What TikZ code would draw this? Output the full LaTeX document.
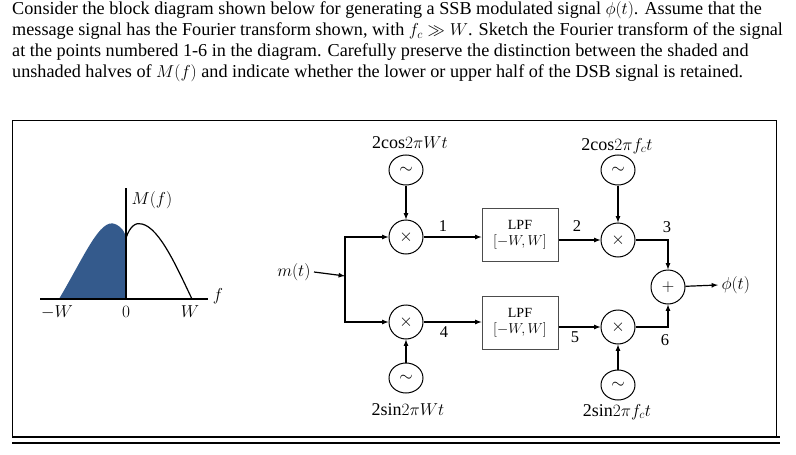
\documentclass[tikz,border=0pt]{standalone}
\usepackage{fontspec}
\setmainfont{Liberation Serif}
\usetikzlibrary{positioning,shapes.geometric,arrows}
\definecolor{shadeblue}{RGB}{52,90,140}
\tikzset{
  blk/.style = {draw=black!70, line width=1pt, minimum width=76pt, minimum height=53pt,
    font=\fontsize{14}{16}\selectfont, align=center},
  mix/.style = {draw, line width=1pt, circle, minimum size=34pt, inner sep=0pt,
    font=\fontsize{18}{18}\selectfont},
  osc/.style = {draw, line width=1pt, ellipse, minimum width=34pt, minimum height=30pt,
    inner sep=0pt, font=\fontsize{16}{16}\selectfont},
  lbl/.style = {font=\fontsize{18}{20}\selectfont},
  num/.style = {font=\fontsize{16.5}{18}\selectfont},
  sig/.style = {->, >=latex, line width=1.2pt}
}
\begin{document}
\begin{tikzpicture}[x=1pt,y=-1pt]
\useasboundingbox (0,0) rectangle (796,455);
% question text
\node[anchor=north west, inner sep=0pt, align=left,
  font=\fontsize{18.2}{21}\selectfont] (txt) at (12,1.5)
  {Consider the block diagram shown below for generating a SSB modulated signal $\phi(t)$. Assume that the\\
   message signal has the Fourier transform shown, with $f_c \gg W$. Sketch the Fourier transform of the signal\\
   at the points numbered 1-6 in the diagram. Carefully preserve the distinction between the shaded and\\
   unshaded halves of $M(f)$ and indicate whether the lower or upper half of the DSB signal is retained.};
% frame
\draw[line width=1pt] (12,438) -- (12,120) -- (776,120) -- (776,438);
\draw[line width=1.5pt] (12,437) -- (780,437);
\draw[line width=1.5pt] (12,443) -- (780,443);
% spectrum
\fill[shadeblue] (59,299) .. controls (85,255) and (100,218) .. (115,224)
  .. controls (122,227) and (125,232) .. (126,238) -- (126,299) -- cycle;
\draw[line width=1.2pt] (126,238) .. controls (130,226) and (136,222) .. (142,224)
  .. controls (160,228) and (178,270) .. (192,299);
\draw[line width=1.2pt] (40,299) -- (208,299);
\draw[line width=1.2pt] (126,188) -- (126,299);
\node[lbl] (mf) at (152,200) {$M(f)$};
\node[lbl] (wl) at (57,312) {$-W$};
\node[lbl] (w0) at (126,312) {$0$};
\node[lbl] (wr) at (190,312) {$W$};
\node[lbl] (fax) at (218,296) {$f$};
% blocks
\node[mix] (m1) at (406,237) {$\times$};
\node[mix] (m2) at (618,240) {$\times$};
\node[mix] (m3) at (406,322) {$\times$};
\node[mix] (m4) at (618,327) {$\times$};
\node[mix] (sum) at (668,287) {$+$};
\node[blk] (lpf1) at (520,235) {LPF\\$[-W,W]$};
\node[blk] (lpf2) at (520,323) {LPF\\$[-W,W]$};
\node[osc] (o1) at (406,170) {$\sim$};
\node[osc] (o2) at (618,170) {$\sim$};
\node[osc] (o3) at (406,378) {$\sim$};
\node[osc] (o4) at (618,385) {$\sim$};
\node[lbl] (c1) at (410,143) {2cos$2\pi Wt$};
\node[lbl] (c2) at (617,146) {2cos$2\pi f_ct$};
\node[lbl] (s1) at (408,410) {2sin$2\pi Wt$};
\node[lbl] (s2) at (617,412) {2sin$2\pi f_ct$};
\node[lbl, anchor=east] (in) at (314,272) {$m(t)$};
\node[lbl, anchor=west] (out) at (718,285) {$\phi(t)$};
\coordinate (split) at (345,276);
% connectors
\draw[sig] (in.east) -- (split);
\draw[sig] (split) |- (m1.west);
\draw[sig] (split) |- (m3.west);
\draw[sig] (o1) -- (m1);
\draw[sig] (o2) -- (m2);
\draw[sig] (o3) -- (m3);
\draw[sig] (o4) -- (m4);
\draw[sig] (m1) -- (lpf1.west |- m1);
\draw[sig] (m3) -- (lpf2.west |- m3);
\draw[sig] (lpf1.east |- m2) -- (m2);
\draw[sig] (lpf2.east |- m4) -- (m4);
\draw[sig] (m2.east) -| (sum.north);
\draw[sig] (m4.east) -| (sum.south);
\draw[sig] (sum) -- (out.west);
% point numbers
\node[num] (p1) at (443,226) {1};
\node[num] (p2) at (577,226) {2};
\node[num] (p3) at (667,227) {3};
\node[num] (p4) at (444,332) {4};
\node[num] (p5) at (575,337) {5};
\node[num] (p6) at (665,340) {6};
\end{tikzpicture}
\end{document}
